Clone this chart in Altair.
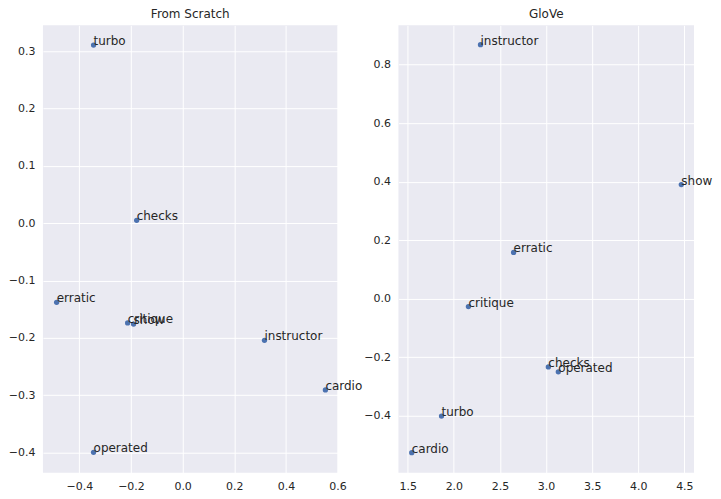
import altair as alt
import pandas as pd

# From Scratch embedding (2-D projection)
words_scratch = ["turbo", "checks", "erratic", "critique", "show", "instructor", "cardio", "operated"]
x_scratch = [-0.345, -0.178, -0.488, -0.213, -0.190, 0.317, 0.553, -0.345]
y_scratch = [0.311, 0.005, -0.138, -0.174, -0.176, -0.2045, -0.291, -0.400]

# GloVe embedding (2-D projection)
words_glove = ["instructor", "show", "erratic", "critique", "checks", "operated", "turbo", "cardio"]
x_glove = [2.289, 4.467, 2.648, 2.158, 3.025, 3.133, 1.866, 1.543]
y_glove = [0.868, 0.390, 0.158, -0.027, -0.233, -0.250, -0.401, -0.526]

xticks_scratch = [-0.4, -0.2, 0.0, 0.2, 0.4, 0.6]
yticks_scratch = [-0.4, -0.3, -0.2, -0.1, 0.0, 0.1, 0.2, 0.3]
xticks_glove = [1.5, 2.0, 2.5, 3.0, 3.5, 4.0, 4.5]
yticks_glove = [-0.4, -0.2, 0.0, 0.2, 0.4, 0.6, 0.8]

FONT = "DejaVu Sans"
INK = "#262626"


def panel(words, xs, ys, title, xdom, ydom, xticks, yticks, width):
    df = pd.DataFrame({"word": words, "x": xs, "y": ys})
    base = alt.Chart(df, width=width, height=448, title=alt.TitleParams(
        title, anchor="middle", offset=4))
    enc = dict(
        x=alt.X("x:Q", title=None,
                scale=alt.Scale(domain=xdom, nice=False, zero=False),
                axis=alt.Axis(values=xticks, format=".1f")),
        y=alt.Y("y:Q", title=None,
                scale=alt.Scale(domain=ydom, nice=False, zero=False),
                axis=alt.Axis(values=yticks, format=".1f")),
    )
    pts = base.mark_circle(size=28, opacity=1, color="#4C72B0").encode(**enc)
    labels = base.mark_text(align="left", baseline="alphabetic", fontSize=12,
                            font=FONT, color=INK).encode(text="word:N", **enc)
    return pts + labels


left = panel(words_scratch, x_scratch, y_scratch, "From Scratch",
             [-0.541, 0.6], [-0.4355, 0.3455], xticks_scratch, yticks_scratch, 295)
right = panel(words_glove, x_glove, y_glove, "GloVe",
              [1.399, 4.605], [-0.5945, 0.934], xticks_glove, yticks_glove, 296)

chart = alt.hconcat(left, right, spacing=61, bounds="flush").properties(
    padding=0
).configure_view(
    fill="#EAEAF2", stroke=None
).configure_axis(
    domain=False, ticks=False, grid=True, gridColor="white", gridWidth=1,
    labelColor=INK, labelFont=FONT, labelFontSize=11, labelPadding=8,
    labelFlush=False, labelOverlap=False,
).configure_title(
    font=FONT, fontSize=12, fontWeight="normal", color=INK,
)

chart.save("out.html", embed_options={"renderer": "svg", "actions": False})
